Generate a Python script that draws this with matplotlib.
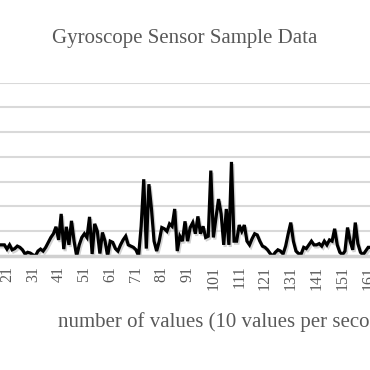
import numpy as np
import matplotlib.pyplot as plt
import matplotlib.patheffects as pe

# --- Data (sample index -> gyroscope reading, in gridline units) ---
first_sample = 18
gyro_values = [
    0.45, 0.45, 0.45, 0.28, 0.45, 0.25, 0.30, 0.40, 0.35, 0.25,   # 18-27
    0.08, 0.15, 0.12, 0.05, 0.00, 0.20, 0.28, 0.20, 0.35, 0.55,   # 28-37
    0.75, 0.90, 1.18, 0.65, 1.70, 0.28, 1.18, 0.45, 1.42, 0.60,   # 38-47
    0.00, 0.45, 0.75, 0.90, 0.75, 1.58, 0.08, 1.30, 1.00, 0.10,   # 48-57
    0.95, 0.60, 0.00, 0.60, 0.55, 0.30, 0.20, 0.45, 0.65, 0.80,   # 58-67
    0.45, 0.40, 0.35, 0.25, 0.00, 1.20, 3.10, 0.30, 2.90, 1.90,   # 68-77
    0.60, 0.20, 0.60, 1.15, 1.10, 1.00, 1.30, 1.20, 1.90, 0.20,   # 78-87
    0.80, 0.60, 1.40, 0.60, 1.15, 1.35, 0.90, 1.60, 0.90, 1.20,   # 88-97
    0.75, 0.80, 3.45, 0.75, 1.55, 2.30, 1.70, 0.45, 1.90, 0.45,   # 98-107
    3.80, 0.60, 0.60, 1.25, 1.00, 1.25, 0.60, 0.45, 0.70, 0.90,   # 108-117
    0.85, 0.60, 0.40, 0.35, 0.25, 0.10, 0.00, 0.15, 0.25, 0.20,   # 118-127
    0.08, 0.40, 0.90, 1.35, 0.60, 0.20, 0.10, 0.08, 0.35, 0.30,   # 128-137
    0.45, 0.60, 0.45, 0.45, 0.50, 0.40, 0.60, 0.45, 0.65, 0.60,   # 138-147
    1.10, 0.45, 0.15, 0.05, 0.20, 1.15, 0.60, 0.25, 1.35, 0.50,   # 148-157
    0.15, 0.05, 0.20, 0.35, 0.35,                                 # 158-162
]
samples = np.arange(first_sample, first_sample + len(gyro_values))
tick_samples = list(range(21, 162, 10))

title = "Gyroscope Sensor Sample Data"
x_title = "number of values (10 values per second)"

text_color = "#595959"
plt.rcParams['font.family'] = ['Liberation Serif', 'DejaVu Serif']

fig = plt.figure(figsize=(3.7, 3.7), dpi=100)
# plot area is wider than the picture: only part of the chart is shown
ax = fig.add_axes([0, 1 - 256 / 370, 1, (256 - 82.7) / 370])

ax.plot(samples, gyro_values, color="black", lw=2.3, solid_joinstyle="miter",
        path_effects=[pe.SimpleLineShadow(offset=(1, -1.5), shadow_color="gray", alpha=0.35),
                      pe.Normal()])

ax.set_xlim(18.29, 161.7)
ax.set_ylim(0, 7)
ax.set_yticks(range(1, 8))
ax.yaxis.grid(True, color="#d9d9d9", lw=1.5)
ax.set_axisbelow(True)
ax.tick_params(axis="y", left=False, labelleft=False)
ax.tick_params(axis="x", length=0, pad=7, labelsize=11.5, labelcolor=text_color)
ax.set_xticks(tick_samples)
ax.set_xticklabels([str(t) for t in tick_samples], rotation=90)

for side in ["left", "right", "top"]:
    ax.spines[side].set_visible(False)
ax.spines["bottom"].set_color("#d0d0d0")
ax.spines["bottom"].set_linewidth(2.5)

fig.text(185 / 370, 1 - 38 / 370, title, ha="center", va="center",
         fontsize=15, color=text_color)
fig.text(58 / 370, 1 - 322 / 370, x_title, ha="left", va="center",
         fontsize=15, color=text_color)

fig.savefig("out.png", dpi=100)
